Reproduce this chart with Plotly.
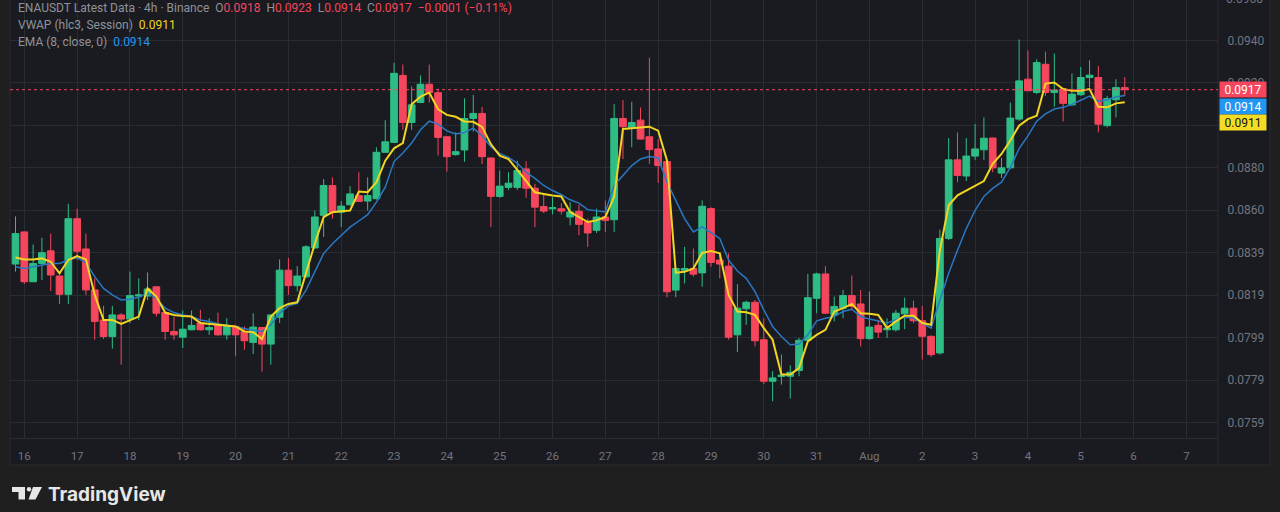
import pandas as pd
import plotly.graph_objs as go

# ENAUSDT 4h candles, Jul 15 20:00 -> Aug 5 20:00
opens = [
    0.08340, 0.08493, 0.08256, 0.08343, 0.08403, 0.08283, 0.08196, 0.08556, 0.08412, 0.08217,
    0.08074, 0.07995, 0.08098, 0.08078, 0.08188, 0.08188, 0.08232, 0.08109, 0.08019, 0.07992,
    0.08027, 0.08059, 0.08027, 0.08048, 0.08003, 0.08043, 0.08019, 0.07967, 0.08038, 0.07959,
    0.08087, 0.08311, 0.08237, 0.08279, 0.08417, 0.08572, 0.08714, 0.08587, 0.08622, 0.08666,
    0.08640, 0.08651, 0.08872, 0.08919, 0.09238, 0.09014, 0.09109, 0.09196, 0.09156, 0.08946,
    0.08861, 0.08883, 0.09033, 0.09057, 0.08845, 0.08662, 0.08705, 0.08705, 0.08793, 0.08701,
    0.08614, 0.08603, 0.08603, 0.08564, 0.08591, 0.08540, 0.08501, 0.08564, 0.08551, 0.09033,
    0.08988, 0.09025, 0.08946, 0.08888, 0.08828, 0.08216, 0.08311, 0.08319, 0.08298, 0.08604,
    0.08359, 0.08330, 0.08003, 0.08127, 0.08158, 0.07980, 0.07782, 0.07805, 0.07806, 0.07833,
    0.07977, 0.08177, 0.08293, 0.08098, 0.08130, 0.08190, 0.08150, 0.07985, 0.08048, 0.08027,
    0.08027, 0.08103, 0.08130, 0.08070, 0.07996, 0.07917, 0.08462, 0.08836, 0.08759, 0.08854,
    0.08884, 0.08940, 0.08773, 0.08798, 0.09030, 0.09220, 0.09157, 0.09291, 0.09157, 0.09173,
    0.09098, 0.09146, 0.09228, 0.09228, 0.08999, 0.09122, 0.09180,
]
highs = [
    0.08567, 0.08495, 0.08433, 0.08465, 0.08485, 0.08285, 0.08627, 0.08604, 0.08485, 0.08272,
    0.08141, 0.08141, 0.08106, 0.08304, 0.08272, 0.08300, 0.08234, 0.08110, 0.08090, 0.08119,
    0.08119, 0.08122, 0.08082, 0.08109, 0.08082, 0.08045, 0.08043, 0.08106, 0.08040, 0.08100,
    0.08362, 0.08369, 0.08330, 0.08430, 0.08595, 0.08745, 0.08753, 0.08640, 0.08711, 0.08777,
    0.08753, 0.08896, 0.09025, 0.09298, 0.09290, 0.09185, 0.09238, 0.09290, 0.09175, 0.08948,
    0.08967, 0.09129, 0.09145, 0.09088, 0.08847, 0.08785, 0.08777, 0.08832, 0.08829, 0.08722,
    0.08674, 0.08658, 0.08630, 0.08635, 0.08623, 0.08556, 0.08604, 0.08643, 0.09101, 0.09120,
    0.09112, 0.09085, 0.09322, 0.08935, 0.08830, 0.08322, 0.08422, 0.08414, 0.08643, 0.08610,
    0.08390, 0.08390, 0.08244, 0.08165, 0.08169, 0.08082, 0.07830, 0.07909, 0.07858, 0.07988,
    0.08293, 0.08299, 0.08330, 0.08185, 0.08217, 0.08285, 0.08217, 0.08209, 0.08075, 0.08082,
    0.08122, 0.08180, 0.08166, 0.08141, 0.08000, 0.08504, 0.08940, 0.08967, 0.08940, 0.09007,
    0.09038, 0.08942, 0.08845, 0.09109, 0.09409, 0.09357, 0.09315, 0.09351, 0.09342, 0.09175,
    0.09247, 0.09278, 0.09310, 0.09283, 0.09141, 0.09220, 0.09230,
]
lows = [
    0.08304, 0.08245, 0.08254, 0.08264, 0.08212, 0.08150, 0.08150, 0.08359, 0.08193, 0.07980,
    0.07983, 0.07937, 0.07861, 0.08059, 0.08074, 0.08169, 0.08090, 0.07980, 0.07980, 0.07940,
    0.08025, 0.08024, 0.08003, 0.07999, 0.07980, 0.07901, 0.07932, 0.07912, 0.07828, 0.07861,
    0.08059, 0.08193, 0.08210, 0.08275, 0.08412, 0.08469, 0.08556, 0.08516, 0.08619, 0.08638,
    0.08595, 0.08647, 0.08869, 0.08916, 0.08979, 0.08979, 0.09106, 0.09109, 0.08856, 0.08780,
    0.08856, 0.08827, 0.08971, 0.08816, 0.08516, 0.08655, 0.08693, 0.08693, 0.08655, 0.08516,
    0.08583, 0.08576, 0.08576, 0.08524, 0.08477, 0.08422, 0.08488, 0.08493, 0.08493, 0.08840,
    0.08896, 0.08933, 0.08817, 0.08727, 0.08182, 0.08182, 0.08248, 0.08280, 0.08232, 0.08327,
    0.08272, 0.07980, 0.07921, 0.08051, 0.07948, 0.07769, 0.07687, 0.07766, 0.07700, 0.07806,
    0.07972, 0.08106, 0.08104, 0.08067, 0.08082, 0.08122, 0.07948, 0.07980, 0.07988, 0.07988,
    0.08019, 0.08030, 0.08059, 0.07885, 0.07898, 0.07909, 0.08454, 0.08730, 0.08735, 0.08836,
    0.08836, 0.08777, 0.08750, 0.08793, 0.09022, 0.09165, 0.09149, 0.09141, 0.09089, 0.09019,
    0.09093, 0.09141, 0.09180, 0.08967, 0.08991, 0.09038, 0.09140,
]
closes = [
    0.08485, 0.08256, 0.08343, 0.08394, 0.08288, 0.08196, 0.08556, 0.08401, 0.08217, 0.08067,
    0.07995, 0.08098, 0.08078, 0.08190, 0.08193, 0.08221, 0.08106, 0.08019, 0.08003, 0.08030,
    0.08048, 0.08027, 0.08038, 0.08003, 0.08043, 0.08003, 0.07975, 0.08040, 0.07959, 0.08098,
    0.08311, 0.08237, 0.08283, 0.08422, 0.08564, 0.08714, 0.08587, 0.08616, 0.08674, 0.08638,
    0.08666, 0.08872, 0.08922, 0.09248, 0.09014, 0.09098, 0.09196, 0.09156, 0.08943, 0.08851,
    0.08875, 0.09033, 0.09057, 0.08851, 0.08662, 0.08711, 0.08725, 0.08785, 0.08701, 0.08611,
    0.08592, 0.08608, 0.08592, 0.08588, 0.08529, 0.08488, 0.08564, 0.08548, 0.09033, 0.08994,
    0.09014, 0.08935, 0.08885, 0.08809, 0.08208, 0.08319, 0.08319, 0.08292, 0.08615, 0.08348,
    0.08340, 0.07992, 0.08130, 0.08158, 0.07975, 0.07782, 0.07798, 0.07811, 0.07825, 0.07977,
    0.08180, 0.08293, 0.08106, 0.08138, 0.08190, 0.08138, 0.07985, 0.08040, 0.08016, 0.08035,
    0.08106, 0.08130, 0.08070, 0.07996, 0.07909, 0.08462, 0.08836, 0.08762, 0.08854, 0.08888,
    0.08939, 0.08798, 0.08798, 0.09035, 0.09212, 0.09165, 0.09299, 0.09157, 0.09168, 0.09105,
    0.09149, 0.09228, 0.09239, 0.09006, 0.09128, 0.09180, 0.09170,
]
vwap = [
    0.08371, 0.08362, 0.08362, 0.08367, 0.08351, 0.08296, 0.08359, 0.08378, 0.08362, 0.08193,
    0.08074, 0.08074, 0.08055, 0.08074, 0.08090, 0.08224, 0.08185, 0.08109, 0.08098, 0.08093,
    0.08090, 0.08059, 0.08055, 0.08051, 0.08048, 0.08043, 0.08019, 0.08016, 0.07983, 0.08090,
    0.08130, 0.08150, 0.08158, 0.08303, 0.08437, 0.08564, 0.08587, 0.08591, 0.08595, 0.08685,
    0.08682, 0.08730, 0.08832, 0.08891, 0.08916, 0.09101, 0.09137, 0.09156, 0.09077, 0.09050,
    0.09041, 0.09019, 0.09017, 0.08993, 0.08911, 0.08856, 0.08840, 0.08788, 0.08734, 0.08682,
    0.08674, 0.08666, 0.08662, 0.08588, 0.08564, 0.08540, 0.08548, 0.08564, 0.08660, 0.08983,
    0.08987, 0.08991, 0.08994, 0.08975, 0.08833, 0.08299, 0.08303, 0.08319, 0.08393, 0.08402,
    0.08391, 0.08193, 0.08114, 0.08111, 0.08098, 0.08035, 0.07980, 0.07814, 0.07814, 0.07845,
    0.07972, 0.08003, 0.08027, 0.08114, 0.08130, 0.08150, 0.08106, 0.08103, 0.08098, 0.08035,
    0.08067, 0.08094, 0.08094, 0.08059, 0.08051, 0.08406, 0.08620, 0.08667, 0.08691, 0.08715,
    0.08735, 0.08817, 0.08864, 0.08928, 0.08999, 0.09030, 0.09046, 0.09199, 0.09204, 0.09173,
    0.09165, 0.09165, 0.09173, 0.09089, 0.09086, 0.09105, 0.09110,
]
ema8 = [
    0.08327, 0.08319, 0.08327, 0.08335, 0.08343, 0.08343, 0.08359, 0.08371, 0.08346, 0.08280,
    0.08224, 0.08193, 0.08169, 0.08172, 0.08182, 0.08201, 0.08177, 0.08130, 0.08109, 0.08098,
    0.08090, 0.08074, 0.08067, 0.08055, 0.08048, 0.08043, 0.08032, 0.08027, 0.08019, 0.08051,
    0.08106, 0.08141, 0.08153, 0.08216, 0.08303, 0.08390, 0.08437, 0.08477, 0.08516, 0.08545,
    0.08575, 0.08635, 0.08706, 0.08828, 0.08869, 0.08916, 0.08979, 0.09020, 0.09006, 0.08974,
    0.08959, 0.08966, 0.08987, 0.08951, 0.08899, 0.08867, 0.08848, 0.08820, 0.08777, 0.08748,
    0.08714, 0.08690, 0.08670, 0.08646, 0.08630, 0.08599, 0.08592, 0.08588, 0.08714, 0.08762,
    0.08809, 0.08840, 0.08852, 0.08845, 0.08730, 0.08643, 0.08556, 0.08493, 0.08517, 0.08490,
    0.08462, 0.08359, 0.08307, 0.08272, 0.08209, 0.08122, 0.08043, 0.07995, 0.07956, 0.07959,
    0.08003, 0.08070, 0.08082, 0.08090, 0.08114, 0.08125, 0.08090, 0.08078, 0.08067, 0.08059,
    0.08075, 0.08087, 0.08083, 0.08059, 0.08035, 0.08169, 0.08296, 0.08406, 0.08509, 0.08596,
    0.08662, 0.08700, 0.08730, 0.08800, 0.08890, 0.08950, 0.09020, 0.09055, 0.09078, 0.09086,
    0.09100, 0.09120, 0.09140, 0.09115, 0.09122, 0.09135, 0.09142,
]

# x axis day labels and price axis labels
day_ticks = pd.date_range('2024-07-16', '2024-08-07', freq='D')
day_labels = ['16', '17', '18', '19', '20', '21', '22', '23', '24', '25', '26', '27',
              '28', '29', '30', '31', 'Aug', '2', '3', '4', '5', '6', '7']
price_ticks = [0.07586, 0.07788, 0.07990, 0.08192, 0.08394, 0.08596,
               0.08798, 0.09000, 0.09202, 0.09404]
# 0.0900 sits under the value boxes, so its label stays hidden
price_labels = ['0.0759', '0.0779', '0.0799', '0.0819', '0.0839', '0.0860',
                '0.0880', '', '0.0920', '0.0940']

times = pd.date_range('2024-07-15 20:00', periods=len(closes), freq='4h')

RED = '#f6465d'
GREEN = '#2ebd85'
YELLOW = '#f2d422'
BLUE = '#2196f3'
EMA_LINE = '#2a78c4'
GRID = '#2a2c33'
PANEL = '#1a1b20'
OUTER = '#1f1f1f'
TICK = '#72757f'
FONT = 'Roboto'

# plot area in pixels (figure is 1280 x 512)
PL, PR, PT, PB = 10, 1218, 0, 438


def fx(px):
    '''pixel x -> paper x'''
    return (px - PL) / (PR - PL)


def fy(py):
    '''pixel y -> paper y'''
    return (PB - py) / (PB - PT)


fig = go.Figure()
fig.add_trace(go.Candlestick(
    x=times, open=opens, high=highs, low=lows, close=closes,
    increasing=dict(line=dict(color=GREEN, width=1), fillcolor=GREEN),
    decreasing=dict(line=dict(color=RED, width=1), fillcolor=RED),
    whiskerwidth=0, hoverinfo='skip', showlegend=False,
))
fig.add_trace(go.Scatter(x=times, y=ema8, mode='lines',
                         line=dict(color=EMA_LINE, width=1.5),
                         hoverinfo='skip', showlegend=False))
fig.add_trace(go.Scatter(x=times, y=vwap, mode='lines',
                         line=dict(color=YELLOW, width=2),
                         hoverinfo='skip', showlegend=False))

o, h, l, c = opens[-1], highs[-1], lows[-1], closes[-1]
chg = c - closes[-2]
pct = chg / closes[-2] * 100
sp = '\u00a0\u00a0'


def red(v):
    return f"<span style='color:{RED}'>{v}</span>"


header = (f'ENAUSDT Latest Data · 4h · Binance{sp}O{red(f"{o:.4f}")}{sp}'
          f'H{red(f"{h:.4f}")}{sp}L{red(f"{l:.4f}")}{sp}C{red(f"{c:.4f}")}'
          f'{sp}{red(f"{chg:.4f} ({pct:.2f}%)".replace("-", "−"))}')
lines = [
    header,
    f"VWAP (hlc3, Session)\u00a0 <span style='color:{YELLOW}'>{vwap[-1]:.4f}</span>",
    f"EMA (8, close, 0)\u00a0 <span style='color:{BLUE}'>{ema8[-1]:.4f}</span>",
]
annotations = []
for i, txt in enumerate(lines):
    annotations.append(dict(
        xref='paper', yref='paper', x=0, y=1, xanchor='left', yanchor='middle',
        xshift=6, yshift=-8 - 17 * i, text=txt, showarrow=False,
        font=dict(family=FONT, size=12, color='#8f929b'),
    ))

# last value boxes on the price scale
for shift, val, bg, fg in [(0, c, RED, '#ffffff'), (-16.5, ema8[-1], BLUE, '#ffffff'),
                           (-33, vwap[-1], '#f5dc24', '#131313')]:
    annotations.append(dict(
        xref='paper', yref='y', x=1, y=c, xanchor='left', yanchor='middle',
        xshift=1, yshift=shift, text=f'{val:.4f}', showarrow=False,
        width=46, height=15, bgcolor=bg, borderpad=0,
        font=dict(family=FONT, size=12, color=fg),
    ))

# half-cut top label
annotations.append(dict(xref='paper', yref='paper', x=1, y=1, xanchor='left', yanchor='middle',
                        xshift=6, yshift=1, text='0.0960', showarrow=False,
                        font=dict(family=FONT, size=12, color=TICK)))

# TradingView wordmark
annotations.append(dict(xref='paper', yref='paper', x=fx(46), y=fy(494), xanchor='left',
                        yanchor='middle', text='<b>TradingView</b>', showarrow=False,
                        font=dict(family='Inter', size=19, color='#e6e6e6')))

shapes = [
    # chart panel
    dict(type='rect', xref='paper', yref='paper', x0=fx(10), x1=fx(1270), y0=fy(465), y1=fy(-2),
         fillcolor=PANEL, line=dict(color='#2a2c31', width=1), layer='below'),
    # price scale separator
    dict(type='line', xref='paper', yref='paper', x0=1, x1=1, y0=fy(465), y1=1,
         line=dict(color=GRID, width=1)),
    # last price line
    dict(type='line', xref='paper', yref='y', x0=0, x1=1, y0=c, y1=c,
         line=dict(color=RED, width=1, dash='dot')),
    # logo
    dict(type='rect', xref='paper', yref='paper', x0=fx(12), x1=fx(25), y0=fy(492), y1=fy(487),
         fillcolor='#e6e6e6', line=dict(width=0)),
    dict(type='rect', xref='paper', yref='paper', x0=fx(18.5), x1=fx(25), y0=fy(499.5), y1=fy(487),
         fillcolor='#e6e6e6', line=dict(width=0)),
    dict(type='circle', xref='paper', yref='paper', x0=fx(26.8), x1=fx(31.2), y0=fy(491.4), y1=fy(487),
         fillcolor='#e6e6e6', line=dict(width=0)),
    dict(type='path', xref='paper', yref='paper',
         path=f'M {fx(33)},{fy(487)} L {fx(42)},{fy(487)} L {fx(35.5)},{fy(499.5)} '
              f'L {fx(28.5)},{fy(499.5)} Z',
         fillcolor='#e6e6e6', line=dict(width=0)),
]

fig.update_layout(
    width=1280, height=512,
    margin=dict(l=PL, r=1280 - PR, t=PT, b=512 - PB),
    paper_bgcolor=OUTER, plot_bgcolor=PANEL,
    boxgap=0.1, boxgroupgap=0.15,
    font=dict(family=FONT, color=TICK),
    annotations=annotations, shapes=shapes,
    xaxis=dict(
        type='date', range=['2024-07-15 17:30', '2024-08-07 14:22'],
        rangeslider=dict(visible=False), tickvals=day_ticks, ticktext=day_labels,
        showgrid=True, gridcolor=GRID, gridwidth=1, zeroline=False,
        showline=True, linecolor=GRID, ticks='outside', ticklen=7, tickcolor=PANEL,
        tickfont=dict(family=FONT, size=11.5, color=TICK), fixedrange=True,
    ),
    yaxis=dict(
        side='right', range=[0.07512, 0.09597],
        tickvals=price_ticks, ticktext=price_labels,
        showgrid=True, gridcolor=GRID, gridwidth=1, zeroline=False,
        ticks='outside', ticklen=6, tickcolor=PANEL,
        tickfont=dict(family=FONT, size=12, color=TICK), fixedrange=True,
    ),
)

# page has a default 8px body margin; drop it so the chart sits at the window corner
fig.write_html('out.html', config={'displayModeBar': False},
               post_script=f"document.body.style.margin='0';"
                           f"document.body.style.background='{OUTER}';")
